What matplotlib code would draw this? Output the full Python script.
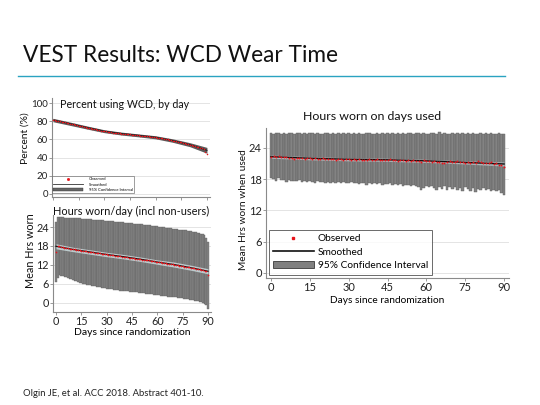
import matplotlib
matplotlib.use("Agg")
import matplotlib.pyplot as plt
from matplotlib.lines import Line2D
from matplotlib.patches import Patch

plt.rcParams['font.family'] = ['Lato', 'DejaVu Sans']

# ---------------- data ----------------
days = list(range(91))

pct_observed = [
    81.5, 81.0, 80.6, 80.2, 79.8, 79.4, 79.0, 78.6, 78.1, 77.7,
    77.3, 76.9, 76.4, 76.0, 75.6, 75.2, 74.8, 74.3, 73.9, 73.4,
    73.0, 72.6, 72.1, 71.7, 71.3, 70.9, 70.5, 70.1, 69.7, 69.4,
    69.0, 68.7, 68.4, 68.1, 67.8, 67.5, 67.3, 67.0, 66.8, 66.6,
    66.4, 66.2, 66.0, 65.8, 65.6, 65.4, 65.2, 65.0, 64.8, 64.6,
    64.4, 64.2, 64.0, 63.8, 63.6, 63.4, 63.2, 63.0, 62.7, 62.5,
    62.2, 61.9, 61.6, 61.3, 61.0, 60.6, 60.3, 59.9, 59.5, 59.1,
    58.7, 58.3, 57.9, 57.5, 57.0, 56.6, 56.1, 55.6, 55.1, 54.6,
    54.1, 53.6, 53.0, 52.5, 51.9, 51.4, 50.8, 50.2, 49.6, 46.5,
    43.5]
smooth_days_10 = [0, 10, 20, 30, 40, 50, 60, 70, 80, 90]
pct_smooth = [81.3, 77.2, 73.0, 69.0, 66.4, 64.4, 62.3, 58.7, 54.2, 48.0]
pct_ci_low = [79.4, 75.4, 71.3, 67.4, 64.8, 62.8, 60.6, 56.8, 52.0, 44.8]
pct_ci_high = [83.2, 79.0, 74.7, 70.6, 68.0, 66.0, 64.0, 60.6, 56.4, 51.2]

hrs_all_upper = [
    25.6, 27.2, 27.2, 27.1, 27.1, 27.0, 27.0, 26.9, 26.9, 26.8,
    26.8, 26.8, 26.7, 26.7, 26.7, 26.6, 26.6, 26.5, 26.5, 26.5,
    26.4, 26.4, 26.3, 26.3, 26.3, 26.2, 26.2, 26.1, 26.1, 26.0,
    26.0, 25.9, 25.9, 25.8, 25.8, 25.7, 25.7, 25.6, 25.6, 25.5,
    25.5, 25.4, 25.4, 25.3, 25.2, 25.2, 25.1, 25.1, 25.0, 24.9,
    24.9, 24.8, 24.7, 24.7, 24.6, 24.5, 24.5, 24.4, 24.3, 24.3,
    24.2, 24.1, 24.1, 24.0, 23.9, 23.8, 23.8, 23.7, 23.6, 23.5,
    23.5, 23.4, 23.3, 23.2, 23.1, 23.1, 23.0, 22.9, 22.8, 22.7,
    22.6, 22.5, 22.4, 22.3, 22.2, 22.1, 21.9, 21.7, 21.4, 20.6,
    19.3]
hrs_all_lower = [
    6.6, 8.0, 8.7, 8.6, 8.5, 8.3, 8.1, 7.9, 7.6, 7.4,
    7.2, 7.0, 6.8, 6.6, 6.4, 6.2, 6.1, 5.9, 5.8, 5.6,
    5.5, 5.4, 5.3, 5.2, 5.1, 5.0, 4.9, 4.8, 4.7, 4.6,
    4.5, 4.4, 4.4, 4.3, 4.2, 4.1, 4.1, 4.0, 3.9, 3.9,
    3.8, 3.7, 3.7, 3.6, 3.5, 3.5, 3.4, 3.3, 3.3, 3.2,
    3.1, 3.1, 3.0, 2.9, 2.9, 2.8, 2.7, 2.7, 2.6, 2.5,
    2.5, 2.4, 2.3, 2.3, 2.2, 2.1, 2.0, 2.0, 1.9, 1.8,
    1.7, 1.7, 1.6, 1.5, 1.4, 1.4, 1.3, 1.2, 1.1, 1.0,
    0.9, 0.8, 0.7, 0.6, 0.5, 0.4, 0.2, 0.0, -0.3, -0.8,
    -1.8]
hrs_all_observed = [
    16.0, 17.9, 18.0, 17.7, 17.6, 17.5, 17.3, 17.3, 17.1, 17.0,
    16.9, 16.9, 16.8, 16.7, 16.6, 16.5, 16.5, 16.4, 16.3, 16.2,
    16.1, 16.1, 16.0, 15.9, 15.8, 15.7, 15.7, 15.6, 15.5, 15.4,
    15.3, 15.2, 15.2, 15.1, 15.0, 14.9, 14.9, 14.8, 14.7, 14.6,
    14.6, 14.5, 14.4, 14.3, 14.2, 14.1, 14.1, 14.0, 13.9, 13.8,
    13.8, 13.7, 13.6, 13.5, 13.5, 13.4, 13.3, 13.2, 13.1, 13.0,
    12.9, 12.9, 12.8, 12.7, 12.6, 12.5, 12.4, 12.3, 12.3, 12.2,
    12.1, 12.0, 11.9, 11.8, 11.7, 11.6, 11.5, 11.4, 11.3, 11.2,
    11.1, 11.0, 10.9, 10.8, 10.7, 10.6, 10.5, 10.4, 10.2, 10.0,
    8.8]
hrs_all_smooth = [17.9, 16.9, 16.1, 15.3, 14.6, 13.8, 12.9, 12.1, 11.1, 10.0]
hrs_all_band_low = [17.1, 16.2, 15.4, 14.6, 13.9, 13.1, 12.2, 11.3, 10.3, 9.2]
hrs_all_band_high = [18.7, 17.6, 16.8, 16.0, 15.3, 14.5, 13.6, 12.9, 11.9, 10.8]

hrs_used_upper = [
    26.9, 26.7, 26.8, 26.9, 26.6, 26.8, 26.7, 26.9, 26.8, 26.6,
    26.8, 26.9, 26.7, 26.8, 26.6, 26.9, 26.8, 26.7, 26.8, 26.6,
    26.7, 26.9, 26.8, 26.6, 26.8, 26.7, 26.9, 26.6, 26.8, 26.7,
    26.8, 26.6, 26.9, 26.7, 26.8, 26.6, 26.7, 26.8, 26.9, 26.6,
    26.7, 26.8, 26.6, 26.9, 26.7, 26.8, 26.6, 26.8, 26.7, 26.9,
    26.6, 26.8, 26.7, 26.8, 26.9, 26.6, 26.8, 26.9, 26.7, 26.8,
    26.7, 26.6, 26.8, 26.9, 26.7, 27.0, 26.6, 26.8, 26.7, 26.6,
    26.8, 26.7, 26.9, 26.6, 26.8, 26.7, 26.8, 26.6, 26.9, 26.7,
    26.6, 26.8, 26.7, 26.9, 26.6, 26.8, 26.7, 26.6, 26.8, 26.7,
    26.6]
hrs_used_lower = [
    18.2, 18.0, 17.6, 18.3, 17.9, 17.8, 17.5, 17.9, 17.6, 17.7,
    17.6, 17.8, 17.5, 17.7, 17.4, 17.6, 17.5, 17.3, 17.6, 17.4,
    17.5, 17.3, 17.5, 17.2, 17.4, 17.3, 17.5, 17.2, 17.4, 17.3,
    17.2, 17.4, 17.2, 17.3, 17.1, 17.3, 17.2, 16.9, 17.3, 17.1,
    17.2, 17.0, 17.2, 16.8, 17.1, 17.0, 17.2, 16.9, 17.0, 16.8,
    17.0, 16.7, 16.9, 16.8, 16.6, 16.9, 16.7, 16.5, 16.0, 16.3,
    16.6, 16.4, 16.7, 16.3, 15.9, 16.5, 16.2, 16.6, 16.0, 16.4,
    16.2, 16.5, 16.0, 16.3, 15.8, 16.4, 16.1, 15.7, 16.3, 15.6,
    16.2, 16.0, 16.3, 15.9, 16.1, 15.8, 16.0, 15.7, 15.9, 15.3,
    14.9]
hrs_used_observed = [
    22.2, 22.4, 22.3, 22.5, 22.2, 22.3, 22.2, 22.1, 22.1, 21.9,
    22.0, 22.1, 22.0, 21.9, 22.1, 22.0, 21.9, 22.0, 21.8, 21.9,
    22.0, 21.8, 21.9, 21.8, 21.9, 21.7, 21.8, 21.9, 21.7, 21.8,
    21.8, 21.7, 21.8, 21.6, 21.8, 21.7, 21.6, 21.7, 21.8, 21.6,
    21.7, 21.8, 21.6, 21.7, 21.6, 21.7, 21.8, 21.6, 21.7, 21.5,
    21.6, 21.7, 21.5, 21.6, 21.4, 21.7, 21.5, 21.4, 21.3, 21.6,
    21.4, 21.5, 21.3, 21.4, 21.2, 21.3, 21.1, 21.0, 21.3, 21.4,
    21.2, 21.3, 21.4, 21.2, 21.3, 21.1, 21.2, 21.0, 21.3, 21.1,
    21.4, 21.2, 21.0, 21.1, 21.0, 21.2, 20.9, 21.0, 20.8, 20.7,
    20.4]
smooth_days_15 = [0, 15, 30, 45, 60, 75, 90]
hrs_used_smooth = [22.3, 22.0, 21.8, 21.7, 21.5, 21.2, 20.9]
hrs_used_band_low = [22.0, 21.7, 21.5, 21.4, 21.2, 20.9, 20.5]
hrs_used_band_high = [22.6, 22.3, 22.1, 22.0, 21.8, 21.5, 21.3]

xticks = [0, 15, 30, 45, 60, 75, 90]
pct_yticks = [0, 20, 40, 60, 80, 100]
hrs_yticks = [0, 6, 12, 18, 24]

# ---------------- figure ----------------
W, H = 540, 405
fig = plt.figure(figsize=(W / 100, H / 100), dpi=100)
fig.patch.set_facecolor('white')


def px_axes(left, top, right, bottom):
    return fig.add_axes([left / W, 1 - bottom / H, (right - left) / W, (bottom - top) / H])


def style(ax, fs):
    for s in ['top', 'right']:
        ax.spines[s].set_visible(False)
    for s in ['left', 'bottom']:
        ax.spines[s].set_color('#8a8a8a')
        ax.spines[s].set_linewidth(0.8)
    ax.tick_params(axis='both', length=2.0, width=0.6, color='#8a8a8a', labelsize=fs,
                   labelcolor='#222222', pad=1.0)
    ax.yaxis.grid(True, color='#e4e4e4', linewidth=0.7)
    ax.set_axisbelow(True)


def ylab(x_px, y_px, text, fs):
    fig.text(x_px / W, 1 - y_px / H, text, rotation=90, fontsize=fs, ha='center', va='center',
             color='#111111')


RED = '#e8141b'
BAR = '#838383'
BAR_EDGE = '#5c5c5c'

# Title and rule
fig.text(23 / W, 1 - 56 / H, 'VEST Results: WCD Wear Time', fontsize=16.3, ha='left', va='center',
         color='#111111')
fig.add_artist(Line2D([18 / W, 505 / W], [1 - 76 / H, 1 - 76 / H], color='#2aa3c1', linewidth=1.0))
fig.text(23 / W, 1 - 393 / H, 'Olgin JE, et al. ACC 2018. Abstract 401-10.', fontsize=6.8,
         ha='left', va='center', color='#222222')

# -------- Panel 1: percent using WCD --------
ax1 = px_axes(52, 98, 210, 197)
style(ax1, 7)
ax1.fill_between(smooth_days_10, pct_ci_low, pct_ci_high, color='#5a5a5a', linewidth=0)
ax1.plot(smooth_days_10, pct_smooth, color='#222222', linewidth=0.8)
ax1.scatter(days, pct_observed, s=1.2, color=RED, linewidths=0, zorder=5)
ax1.set_xlim(-0.6, 91.8)
ax1.set_ylim(-3.3, 105.5)
ax1.set_yticks(pct_yticks)
ax1.set_xticks(xticks)
ax1.set_xticklabels([])
ylab(25, 138, 'Percent (%)', 7.5)
fig.text(60 / W, 1 - 105 / H, 'Percent using WCD, by day', fontsize=7.7, ha='left', va='center',
         color='#111111')
h_obs_s = Line2D([], [], marker='s', linestyle='none', markersize=1.0, color=RED)
h_sm_s = Line2D([], [], color='#333333', linewidth=0.6)
h_ci_s = Patch(facecolor='#666666', edgecolor='#333333', linewidth=0.3)
leg1 = ax1.legend([h_obs_s, h_sm_s, h_ci_s], ['Observed', 'Smoothed', '95% Confidence Interval'],
                  loc='upper left', bbox_to_anchor=(52 / W, 1 - 176 / H),
                  bbox_transform=fig.transFigure, fontsize=3.0, frameon=True, fancybox=False,
                  edgecolor='#555555', borderpad=0.35, labelspacing=0.3, handlelength=7,
                  handletextpad=1.5, borderaxespad=0)
leg1.get_frame().set_linewidth(0.5)

# -------- Panel 2: hours worn/day --------
ax2 = px_axes(53, 215, 211, 312)
style(ax2, 7.8)
ax2.bar(days, [u - l for u, l in zip(hrs_all_upper, hrs_all_lower)], bottom=hrs_all_lower,
        width=1.0, color=BAR, edgecolor=BAR_EDGE, linewidth=0.25)
ax2.fill_between(smooth_days_10, hrs_all_band_low, hrs_all_band_high, color='#bccbcd', linewidth=0)
ax2.plot(smooth_days_10, hrs_all_smooth, color='#111111', linewidth=0.9)
ax2.scatter(days, hrs_all_observed, s=1.5, color=RED, linewidths=0, zorder=5)
ax2.set_xlim(-1.8, 91.8)
ax2.set_ylim(-2.9, 27.8)
ax2.set_yticks(hrs_yticks)
ax2.set_xticks(xticks)
ylab(30, 251, 'Mean Hrs worn', 7.8)
ax2.set_xlabel('Days since randomization', fontsize=7.5, labelpad=0.5)
fig.text(131 / W, 1 - 211 / H, 'Hours worn/day (incl non-users)', fontsize=7.9, ha='center',
         va='center', color='#111111')

# -------- Panel 3: hours worn on days used --------
ax3 = px_axes(266, 128, 509, 278)
style(ax3, 8)
ax3.bar(days, [u - l for u, l in zip(hrs_used_upper, hrs_used_lower)], bottom=hrs_used_lower,
        width=1.0, color=BAR, edgecolor=BAR_EDGE, linewidth=0.3)
ax3.fill_between(smooth_days_15, hrs_used_band_low, hrs_used_band_high, color='#a9b5b7', linewidth=0)
ax3.plot(smooth_days_15, hrs_used_smooth, color='#111111', linewidth=1.0)
ax3.scatter(days, hrs_used_observed, s=2.0, color=RED, linewidths=0, zorder=5)
ax3.set_xlim(-1.9, 91.9)
ax3.set_ylim(-0.96, 27.8)
ax3.set_yticks(hrs_yticks)
ax3.set_xticks(xticks)
ylab(243, 210, 'Mean Hrs worn when used', 7.3)
ax3.set_xlabel('Days since randomization', fontsize=7.3, labelpad=2)
fig.text(372 / W, 1 - 117 / H, 'Hours worn on days used', fontsize=8.9, ha='center',
         va='center', color='#111111')
h_obs = Line2D([], [], marker='s', linestyle='none', markersize=1.8, color=RED)
h_sm = Line2D([], [], color='#111111', linewidth=1.2)
h_ci = Patch(facecolor='#808080', edgecolor='#3a3a3a', linewidth=0.6)
leg3 = ax3.legend([h_obs, h_sm, h_ci], ['Observed', 'Smoothed', '95% Confidence Interval'],
                  loc='upper left', bbox_to_anchor=(269 / W, 1 - 230 / H),
                  bbox_transform=fig.transFigure, fontsize=7.3, frameon=True, fancybox=False,
                  edgecolor='#444444', borderpad=0.4, labelspacing=0.45, handlelength=4.0,
                  handletextpad=0.4, borderaxespad=0)
leg3.get_frame().set_linewidth(0.7)

fig.savefig('out.png', dpi=100, facecolor='white')
